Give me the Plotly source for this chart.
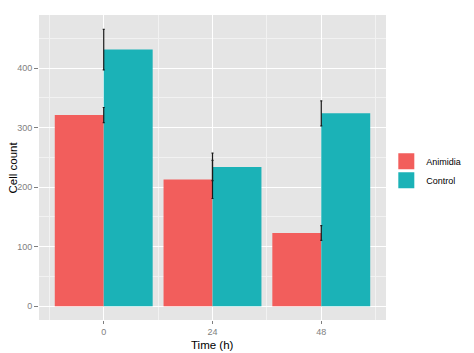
import plotly.graph_objects as go

# Data
times = [0, 24, 48]
tick_labels = ["0", "24", "48"]
animidia = [321, 213, 123]
animidia_err = [12.7, 32, 12.5]
control = [431, 234, 324]
control_err = [34, 23, 21]

red = "#F25E5C"
teal = "#1BB2B7"
bar_w = 10.8  # 0.45 * 24

fig = go.Figure()
fig.add_trace(go.Bar(x=times, y=animidia, width=bar_w, offset=-bar_w,
                     marker=dict(color=red, line=dict(width=0)),
                     name="Animidia", showlegend=False))
fig.add_trace(go.Bar(x=times, y=control, width=bar_w, offset=0,
                     marker=dict(color=teal, line=dict(width=0)),
                     name="Control", showlegend=False))
# error bars drawn at the time point (not dodged), as in the original
for vals, errs in ((animidia, animidia_err), (control, control_err)):
    fig.add_trace(go.Scatter(x=times, y=vals, mode="markers",
                             marker=dict(size=0.1, color="rgba(0,0,0,0)"),
                             error_y=dict(type="data", array=errs, visible=True,
                                          color="#1A1A1A", thickness=1.2, width=1),
                             showlegend=False, hoverinfo="skip"))
# legend entries
for name, col in (("Animidia", red), ("Control", teal)):
    fig.add_trace(go.Scatter(x=[None], y=[None], mode="markers", name=name,
                             marker=dict(symbol="square", size=17, color=col)))

fig.update_layout(
    width=474, height=353,
    margin=dict(l=39, r=88, t=15, b=33, autoexpand=False),
    paper_bgcolor="white",
    plot_bgcolor="#E5E5E5",
    barmode="overlay",
    font=dict(family="Liberation Sans, Arial, sans-serif"),
    legend=dict(xref="container", yref="container", x=0.815, xanchor="left",
                y=0.516, yanchor="middle",
                font=dict(size=9, color="black"), tracegroupgap=0,
                itemwidth=30),
    annotations=[
        dict(text="Time (h)", xref="paper", yref="paper", x=0.5, y=0,
             yshift=-25, xanchor="center", yanchor="middle", showarrow=False,
             font=dict(size=11.5, color="black")),
        dict(text="Cell count", xref="paper", yref="paper", x=0, y=0.5,
             xshift=-27, xanchor="center", yanchor="middle", showarrow=False,
             textangle=-90, font=dict(size=11.5, color="black")),
    ],
)
fig.update_xaxes(range=[-14.28, 62.28], tickvals=times, ticktext=tick_labels,
                 automargin=False,
                 showgrid=True, gridcolor="white", gridwidth=1.1, zeroline=False,
                 ticks="outside", ticklen=3, tickcolor="#7F7F7F",
                 tickfont=dict(size=9, color="#7F7F7F"),
                 minor=dict(tickvals=[-12, 12, 36, 60], showgrid=True,
                            gridcolor="#F2F2F2", gridwidth=0.6, ticks=""))
fig.update_yaxes(range=[-23, 489], tickvals=[0, 100, 200, 300, 400],
                 automargin=False,
                 showgrid=True, gridcolor="white", gridwidth=1.1, zeroline=False,
                 ticks="outside", ticklen=4, tickcolor="#7F7F7F",
                 tickfont=dict(size=9, color="#7F7F7F"),
                 minor=dict(tickvals=[50, 150, 250, 350, 450], showgrid=True,
                            gridcolor="#F2F2F2", gridwidth=0.6, ticks=""))

fig.write_html("out.html")
